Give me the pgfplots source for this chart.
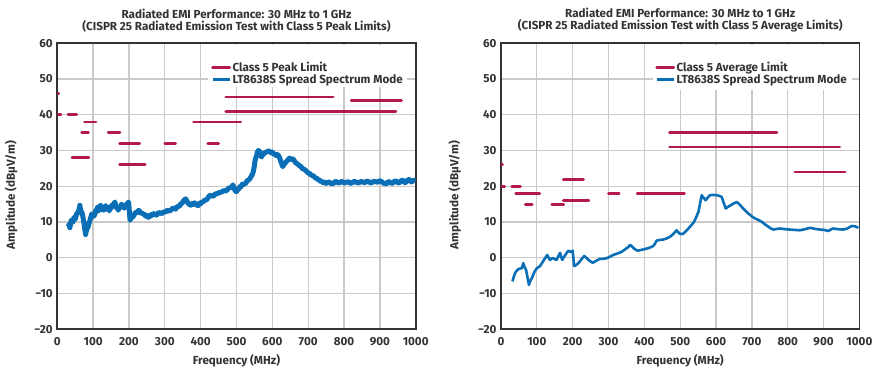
\documentclass[border=0pt]{standalone}
\usepackage{pgfplots}
\pgfplotsset{compat=1.18}
\usepackage{fontspec}
\setmainfont{Fira Sans}
\definecolor{limred}{HTML}{B5184A}
\definecolor{emiblue}{HTML}{0A6FB6}
\definecolor{gridgray}{HTML}{CACACA}
\definecolor{framegray}{HTML}{333333}
\newcommand{\chartfont}{\bfseries\fontsize{11.7}{12.2}\selectfont}
\pgfplotsset{
 emistyle/.style={
  scale only axis, width=358.4bp, height=286bp,
  xmin=0,xmax=1000,ymin=-20,ymax=60,
  xtick={0,100,...,1000}, ytick={-20,-10,...,60},
  yticklabels={−20,−10,0,10,20,30,40,50,60},
  /pgf/number format/assume math mode=true,
  /pgf/number format/set thousands separator={},
  grid=major, major grid style={gridgray, line width=1.3bp},
  axis line style={framegray, line width=1.8bp},
  tick style={draw=none},
  ticklabel style={font=\chartfont, text=framegray},
  xticklabel style={yshift=-4.5bp},
  yticklabel style={xshift=-1bp},
  xlabel={Frequency (MHz)},
  ylabel={Amplitude (dBμV/m)},
  every axis x label/.style={at={(axis description cs:0.5,-0.1224)}, anchor=base},
  every axis y label/.style={at={(axis description cs:-0.129,0.47)}, rotate=90, anchor=center},
  label style={font=\chartfont, text=framegray},
  every axis title/.style={at={(axis description cs:0.5,1)}, anchor=south, inner sep=0pt, yshift=11bp},
  title style={font=\chartfont, text=framegray, align=center},
  legend style={draw=none, fill=none, anchor=north west, font=\chartfont, text=framegray, row sep=-1.5bp, inner sep=0pt, nodes={inner sep=1.5bp}},
  legend cell align=left,
  legend image code/.code={\draw[#1, line width=2.8bp] (0bp,0bp) -- (17bp,0bp);},
  limline/.style={limred, line width=2.8bp, line cap=round, forget plot},
 }
}
\begin{document}
\begin{tikzpicture}
\path[use as bounding box] (0,0) rectangle (876bp,379bp);
% ---------------- Left: peak ----------------
\begin{axis}[emistyle, at={(57.3bp,49.7bp)}, anchor=south west,
  title={Radiated EMI Performance: 30 MHz to 1 GHz\\(CISPR 25 Radiated Emission Test with Class 5 Peak Limits)},
  legend style={at={(0.4289,0.94)}}]
\fill[white] (rel axis cs:0.4205,0.994) rectangle (rel axis cs:0.9757,0.847);
\addplot[limred, line width=2.8bp, line cap=round] coordinates {(0,46) (4,46)};
\addlegendentry{Class 5 Peak Limit}
\addplot[limline] coordinates {(0,40) (10,40)};
\addplot[limline] coordinates {(30,40) (54,40)};
\addplot[limline] coordinates {(41,28) (88,28)};
\addplot[limline] coordinates {(68,35) (87,35)};
\addplot[limline] coordinates {(76,38) (108,38)};
\addplot[limline] coordinates {(142,35) (175,35)};
\addplot[limline] coordinates {(174,32) (230,32)};
\addplot[limline] coordinates {(174,26) (245,26)};
\addplot[limline] coordinates {(300,32) (330,32)};
\addplot[limline] coordinates {(380,38) (512,38)};
\addplot[limline] coordinates {(420,32) (450,32)};
\addplot[limline] coordinates {(470,45) (770,45)};
\addplot[limline] coordinates {(470,41) (945,41)};
\addplot[limline] coordinates {(820,44) (960,44)};
\addplot[emiblue, line width=5bp, line join=round] table {
31 8.7
33 9.4
35 8.4
38 10.2
40 10.6
42 9.9
44 10.1
47 11.4
49 10.8
51 11.0
54 12.4
56 12.3
58 12.9
60 13.2
63 14.7
66 12.6
68 12.9
70 12.3
74 10.0
77 7.8
79 6.5
81 7.6
83 8.1
86 8.7
88 9.5
91 10.4
93 11.2
96 12.2
98 12.3
101 11.6
104 12.0
106 12.9
108 13.4
110 12.8
112 14.2
114 13.5
116 13.2
118 14.3
121 14.7
124 13.4
126 13.6
128 14.2
130 13.3
133 13.9
135 14.6
138 13.6
140 14.2
143 13.8
145 13.1
147 14.0
149 13.7
152 14.7
155 14.4
158 15.2
161 15.6
163 14.4
165 14.0
168 14.2
170 13.3
173 14.0
176 14.1
179 15.0
181 14.7
184 14.2
187 13.9
191 14.8
195 15.1
199 15.6
201 13.0
203 10.5
206 11.1
208 11.3
211 11.5
214 11.9
217 12.6
220 12.5
224 13.0
228 13.3
231 12.6
235 12.7
238 12.2
242 12.3
246 11.7
249 11.9
252 11.3
256 11.4
260 12.0
263 11.8
267 12.4
270 12.3
274 11.9
279 12.1
283 12.7
288 12.5
293 12.4
297 12.9
302 12.8
307 13.3
311 13.0
316 13.3
321 13.8
326 13.9
330 13.6
335 14.4
340 14.3
344 15.1
348 15.2
351 15.8
355 16.2
358 16.5
361 16.0
364 15.4
368 15.0
372 14.7
376 15.2
379 14.9
383 15.4
386 15.1
390 14.7
393 14.6
397 15.3
400 15.1
404 15.7
407 15.6
411 16.2
414 16.1
418 16.4
421 16.9
425 17.4
428 17.5
432 17.2
437 17.4
441 17.9
446 17.9
450 18.2
455 18.3
460 18.5
465 18.9
469 18.6
474 19.0
478 19.5
482 19.6
486 19.7
490 20.4
493 19.6
495 19.0
498 18.6
500 18.5
503 19.1
506 19.2
509 19.9
512 19.8
516 20.6
519 20.5
523 20.7
526 20.9
530 21.6
533 21.7
537 22.1
540 22.6
543 23.1
545 23.5
547 24.2
549 25.2
551 26.6
552 27.3
554 28.0
556 28.4
558 29.5
561 30.0
563 29.9
565 29.6
568 28.6
570 28.2
573 28.9
576 29.0
580 29.6
584 29.5
588 29.9
592 29.8
595 29.5
598 29.3
600 29.6
603 29.1
607 29.0
610 28.6
614 28.9
617 28.6
620 28.1
622 27.4
626 26.3
629 25.5
632 26.0
636 26.5
639 26.9
642 27.2
645 27.6
648 27.9
651 27.5
654 27.7
658 27.6
661 27.2
665 26.6
668 26.4
672 26.1
675 25.8
679 25.6
682 25.2
686 24.8
689 24.8
693 24.4
696 24.1
700 23.7
703 23.7
707 23.2
710 23.1
714 22.9
717 22.7
721 22.2
724 22.3
728 21.8
731 21.8
735 21.3
738 21.4
742 21.0
745 21.2
749 20.8
752 20.9
756 21.2
760 21.1
765 20.7
770 20.8
775 21.3
779 21.3
784 20.9
789 21.1
795 21.4
800 20.9
806 21.1
812 21.3
818 20.8
823 21.0
829 21.4
835 21.1
841 20.9
847 21.4
852 21.2
858 21.0
864 21.5
870 21.2
876 20.9
882 21.4
888 21.3
893 21.1
899 21.6
905 21.3
912 20.8
919 20.7
923 21.3
928 21.2
932 20.8
937 21.0
942 21.5
947 21.4
951 20.9
956 21.1
960 21.7
965 21.6
970 21.0
974 21.3
979 21.9
984 21.8
988 21.2
991 21.4
995 21.7
998 21.1
};
\addlegendentry{LT8638S Spread Spectrum Mode}
\end{axis}
% ---------------- Right: average ----------------
\begin{axis}[emistyle, at={(501bp,49.7bp)}, anchor=south west,
  title={Radiated EMI Performance: 30 MHz to 1 GHz\\(CISPR 25 Radiated Emission Test with Class 5 Average Limits)},
  legend style={at={(0.430,0.94)}}]
\fill[white] (rel axis cs:0.424,0.994) rectangle (rel axis cs:0.980,0.837);
\addplot[limred, line width=2.8bp, line cap=round] coordinates {(0,26) (4,26)};
\addlegendentry{Class 5 Average Limit}
\addplot[limline] coordinates {(0,20) (10,20)};
\addplot[limline] coordinates {(30,20) (54,20)};
\addplot[limline] coordinates {(41,18) (88,18)};
\addplot[limline] coordinates {(68,15) (87,15)};
\addplot[limline] coordinates {(76,18) (108,18)};
\addplot[limline] coordinates {(142,15) (175,15)};
\addplot[limline] coordinates {(174,22) (230,22)};
\addplot[limline] coordinates {(174,16) (245,16)};
\addplot[limline] coordinates {(300,18) (330,18)};
\addplot[limline] coordinates {(380,18) (512,18)};
\addplot[limline] coordinates {(420,18) (450,18)};
\addplot[limline] coordinates {(470,35) (770,35)};
\addplot[limline] coordinates {(470,31) (945,31)};
\addplot[limline] coordinates {(820,24) (960,24)};
\addplot[emiblue, line width=2.6bp, line join=round] table {
32 -6.6
36 -5.2
39 -4.3
44 -3.6
48 -3.2
53 -3.0
58 -2.9
62 -1.5
66 -2.6
70 -3.4
74 -5.5
78 -7.6
82 -6.4
86 -5.7
93 -4.0
100 -2.9
105 -2.6
109 -2.3
116 -1.2
123 -0.1
129 0.8
133 0.0
137 -0.6
141 -0.2
146 -0.1
150 -0.4
155 -0.6
160 0.4
165 1.4
168 0.2
171 -0.6
176 0.3
182 1.2
188 2.0
194 1.6
200 2.0
204 -2.3
210 -2.0
216 -1.5
224 -0.5
232 0.5
238 0.0
244 -0.6
250 -1.0
256 -1.4
266 -0.8
276 -0.3
285 -0.3
295 -0.1
304 0.3
313 0.8
325 1.2
337 1.7
348 2.5
355 3.0
360 3.6
365 3.2
371 2.6
377 2.2
383 2.0
395 2.3
407 2.6
416 2.9
425 3.3
430 4.0
434 4.8
443 5.0
453 5.1
462 5.4
472 5.9
481 6.7
490 7.7
494 7.2
498 6.8
504 6.6
509 6.8
516 7.5
523 8.2
530 9.0
537 9.8
544 11.2
551 12.9
556 15.5
560 17.5
565 16.8
571 16.1
577 16.9
583 17.5
592 17.6
602 17.5
610 17.3
616 17.0
621 15.5
627 13.8
634 14.3
641 14.7
649 15.2
658 15.6
665 15.0
672 14.2
681 13.3
690 12.4
700 11.6
709 11.0
718 10.6
727 10.1
736 9.4
746 8.7
753 8.2
760 7.9
770 8.1
779 8.2
793 8.0
807 7.9
820 7.8
834 7.7
848 8.0
862 8.4
876 8.1
890 7.9
902 7.8
913 7.5
920 7.9
927 8.2
941 8.0
955 7.9
966 8.2
978 8.9
988 8.8
997 8.4
};
\addlegendentry{LT8638S Spread Spectrum Mode}
\end{axis}
\end{tikzpicture}
\end{document}
